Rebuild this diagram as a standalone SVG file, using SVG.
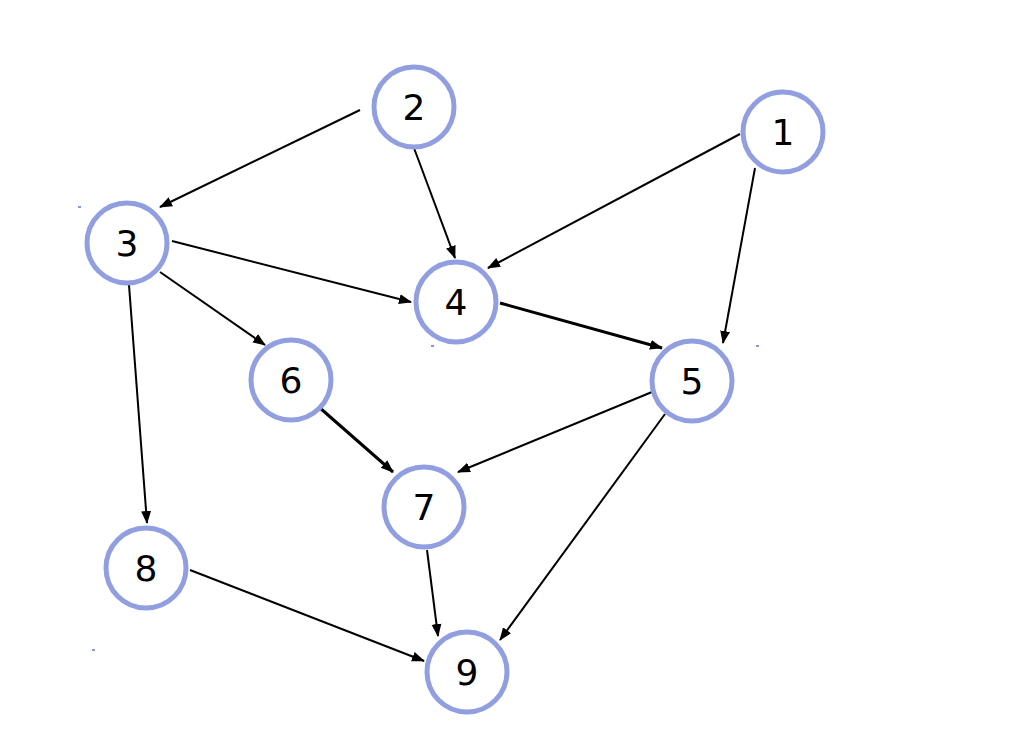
<svg xmlns="http://www.w3.org/2000/svg" width="1024" height="736" viewBox="0 0 1024 736">
<style>
.n circle{fill:#fff;stroke:#919fe0;stroke-width:5}
.n text{font-family:"DejaVu Sans",sans-serif;font-size:36px;fill:#000;text-anchor:middle;dominant-baseline:central}
.e line{stroke:#000;stroke-width:2;marker-end:url(#a)}
.e line.t{stroke-width:3}
.s{stroke:#3a4fd0;stroke-width:1.2}
</style>
<defs><marker id="a" markerUnits="userSpaceOnUse" markerWidth="14" markerHeight="12" refX="12" refY="5" orient="auto" viewBox="0 0 14 10"><path d="M0,0 L13,5 L0,10 Z" fill="#000"/></marker></defs>
<rect width="1024" height="736" fill="#fff"/>
<g class="e" id="edges">
<line x1="360" y1="110" x2="160" y2="207"/>
<line x1="414" y1="148" x2="455" y2="258"/>
<line x1="740" y1="134" x2="488" y2="268"/>
<line x1="755" y1="168" x2="723" y2="343"/>
<line x1="172" y1="241" x2="411" y2="302"/>
<line x1="160" y1="272" x2="265" y2="345"/>
<line x1="129" y1="285" x2="147" y2="523"/>
<line class="t" x1="500" y1="303" x2="662" y2="348"/>
<line class="t" x1="320" y1="408" x2="393" y2="472"/>
<line x1="652" y1="392" x2="458" y2="472"/>
<line x1="665" y1="414" x2="500" y2="640"/>
<line x1="427" y1="550" x2="438" y2="636"/>
<line x1="190" y1="570" x2="424" y2="661"/>
</g>
<g class="n" id="n1"><circle cx="783" cy="132" r="40"/><text x="783" y="132">1</text></g>
<g class="n" id="n2"><circle cx="414" cy="107" r="40"/><text x="414" y="107">2</text></g>
<g class="n" id="n3"><circle cx="127" cy="243" r="40"/><text x="127" y="243">3</text></g>
<g class="n" id="n4"><circle cx="456" cy="302" r="40"/><text x="456" y="302">4</text></g>
<g class="n" id="n5"><circle cx="692" cy="381" r="40"/><text x="692" y="381">5</text></g>
<g class="n" id="n6"><circle cx="291" cy="380" r="40"/><text x="291" y="380">6</text></g>
<g class="n" id="n7"><circle cx="424" cy="507" r="40"/><text x="424" y="507">7</text></g>
<g class="n" id="n8"><circle cx="146" cy="568" r="40"/><text x="146" y="568">8</text></g>
<g class="n" id="n9"><circle cx="467" cy="672" r="40"/><text x="467" y="672">9</text></g>
<g id="specks">
<line class="s" x1="78" y1="207" x2="81" y2="207"/>
<line class="s" x1="431" y1="346" x2="434" y2="346"/>
<line class="s" x1="756" y1="346" x2="759" y2="346"/>
<line class="s" x1="92" y1="650" x2="95" y2="650"/>
</g>
</svg>
